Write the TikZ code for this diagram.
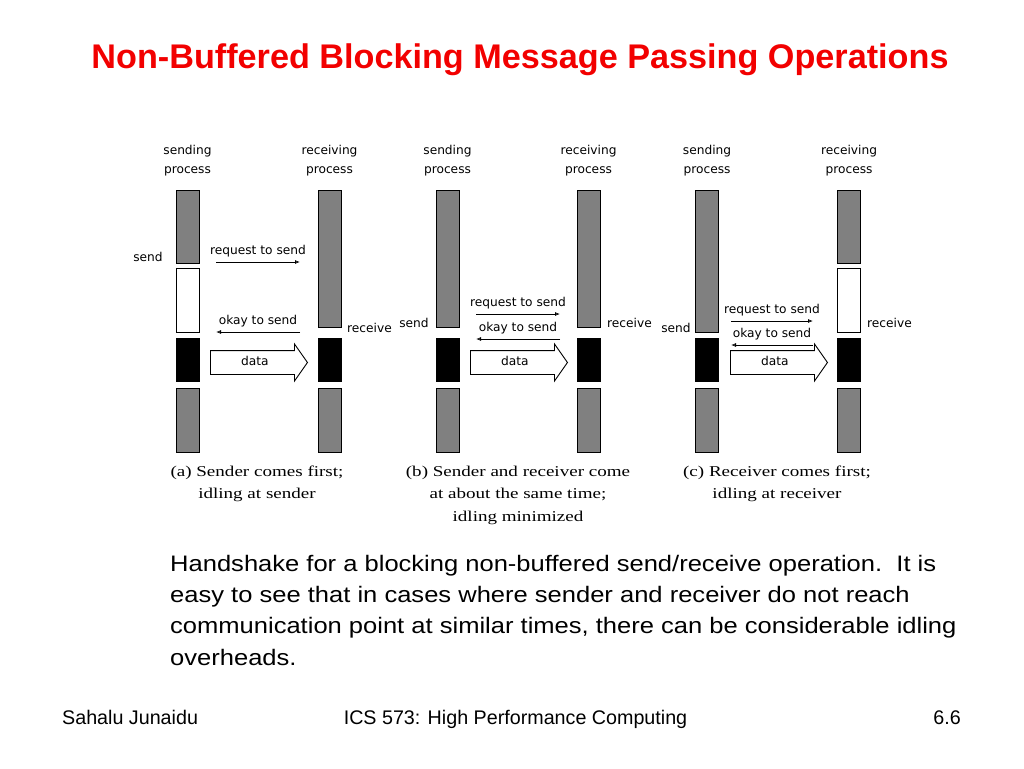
\documentclass[tikz,border=0pt]{standalone}
\usepackage{fontspec}
\setmainfont{Liberation Sans}
\newfontfamily\lblfont{DejaVu Sans}
\newfontfamily\capfont[FakeStretch=1.27]{Liberation Serif}
\newfontfamily\bodyfont[FakeStretch=1.14]{Liberation Sans}
\usetikzlibrary{shapes.arrows,arrows.meta,positioning}

\begin{document}
\begin{tikzpicture}[x=1pt, y=-1pt]
    \tikzstyle{busy} = [rectangle, draw, line width=0.9pt, fill=black!50, minimum width=23pt, inner sep=0pt, anchor=north]
    \tikzstyle{idle} = [busy, fill=white]
    \tikzstyle{xfer} = [busy, fill=black]
    \tikzstyle{lbl} = [font=\lblfont\fontsize{12.2}{19}\selectfont, align=center, inner sep=0pt]
    \tikzstyle{msg} = [line width=0.8pt, -{Latex[open, length=5pt, width=4pt]}]
    \tikzstyle{data} = [single arrow, draw, line width=0.9pt, anchor=tail, minimum height=97pt, text height=8pt, text depth=3pt, inner xsep=2pt, inner ysep=6pt, single arrow head extend=6.5pt, single arrow tip angle=110, font=\lblfont\fontsize{12.2}{13}\selectfont]
    \tikzstyle{caption} = [font=\capfont\fontsize{15}{22.5}\selectfont, align=center, inner sep=0pt, anchor=base]
    \tikzstyle{foot} = [font=\fontsize{19.7}{22}\selectfont, inner sep=0pt, anchor=base]

    \useasboundingbox (0,0) rectangle (1024,768);

    % Titel
    \node[font=\bfseries\fontsize{34.2}{40}\selectfont, text=red!95!black] (title) at (520,60) {Non-Buffered Blocking Message Passing Operations};

    % (a) Sender zuerst
    \node[lbl] (hsa) at (187.5,161) {sending\\process};
    \node[lbl] (hra) at (329.5,161) {receiving\\process};
    \node[busy, minimum height=73pt] (sa1) at (187.5,190) {};
    \node[idle, minimum height=64pt] (sa2) at (187.5,268) {};
    \node[xfer, minimum height=43pt] (sa3) at (187.5,338) {};
    \node[busy, minimum height=64pt] (sa4) at (187.5,388) {};
    \node[busy, minimum height=137pt] (ra1) at (329.5,190) {};
    \node[xfer, minimum height=43pt] (ra2) at (329.5,338) {};
    \node[busy, minimum height=64pt] (ra3) at (329.5,388) {};
    \node[lbl] (sendA) at (148,257) {send};
    \node[lbl] (recvA) at (369.5,328) {receive};
    \coordinate (rqa1) at (216,262);
    \coordinate (rqa2) at (300,262);
    \coordinate (oka1) at (300,332);
    \coordinate (oka2) at (216,332);
    \draw[msg] (rqa1) -- node[lbl, above=5pt] {request to send} (rqa2);
    \draw[msg] (oka1) -- node[lbl, above=5pt] {okay to send} (oka2);
    \node[data] (dta) at (210,362.5) {data};
    \node[caption] (capa) at (257,498.5) {(a) Sender comes first;\\idling at sender};

    % (b) etwa gleichzeitig
    \node[lbl] (hsb) at (447.5,161) {sending\\process};
    \node[lbl] (hrb) at (588.5,161) {receiving\\process};
    \node[busy, minimum height=137pt] (sb1) at (447.5,190) {};
    \node[xfer, minimum height=43pt] (sb2) at (447.5,338) {};
    \node[busy, minimum height=64pt] (sb3) at (447.5,388) {};
    \node[busy, minimum height=137pt] (rb1) at (588.5,190) {};
    \node[xfer, minimum height=43pt] (rb2) at (588.5,338) {};
    \node[busy, minimum height=64pt] (rb3) at (588.5,388) {};
    \node[lbl] (sendB) at (414,323) {send};
    \node[lbl] (recvB) at (629.5,323) {receive};
    \coordinate (rqb1) at (476,314);
    \coordinate (rqb2) at (560,314);
    \coordinate (okb1) at (560,339);
    \coordinate (okb2) at (476,339);
    \draw[msg] (rqb1) -- node[lbl, above=5pt] {request to send} (rqb2);
    \draw[msg] (okb1) -- node[lbl, above=5pt] {okay to send} (okb2);
    \node[data] (dtb) at (470,362.5) {data};
    \node[caption] (capb) at (518,521) {(b) Sender and receiver come\\at about the same time;\\idling minimized};

    % (c) Empfaenger zuerst
    \node[lbl] (hsc) at (707,161) {sending\\process};
    \node[lbl] (hrc) at (849,161) {receiving\\process};
    \node[busy, minimum height=142pt] (sc1) at (707,190) {};
    \node[xfer, minimum height=43pt] (sc2) at (707,338) {};
    \node[busy, minimum height=64pt] (sc3) at (707,388) {};
    \node[busy, minimum height=73pt] (rc1) at (849,190) {};
    \node[idle, minimum height=64pt] (rc2) at (849,268) {};
    \node[xfer, minimum height=43pt] (rc3) at (849,338) {};
    \node[busy, minimum height=64pt] (rc4) at (849,388) {};
    \node[lbl] (sendC) at (676,328) {send};
    \node[lbl] (recvC) at (889.5,323) {receive};
    \coordinate (rqc1) at (731,321);
    \coordinate (rqc2) at (813,321);
    \coordinate (okc1) at (813,345);
    \coordinate (okc2) at (731,345);
    \draw[msg] (rqc1) -- node[lbl, above=5pt] {request to send} (rqc2);
    \draw[msg] (okc1) -- node[lbl, above=5pt] {okay to send} (okc2);
    \node[data] (dtc) at (730,362.5) {data};
    \node[caption] (capc) at (777,498.5) {(c) Receiver comes first;\\idling at receiver};

    % Text
    \node[font=\bodyfont\fontsize{22.4}{31.3}\selectfont, align=left, anchor=base west, inner sep=0pt] (body) at (170,665) {Handshake for a blocking non-buffered send/receive operation.\ \ It is\\easy to see that in cases where sender and receiver do not reach\\communication point at similar times, there can be considerable idling\\overheads.};

    % Fusszeile
    \node[foot, anchor=base west] (author) at (62,724) {Sahalu Junaidu};
    \node[foot] (course) at (515.5,724) {ICS 573: High Performance Computing};
    \node[foot] (page) at (947,724) {6.6};
\end{tikzpicture}
\end{document}
